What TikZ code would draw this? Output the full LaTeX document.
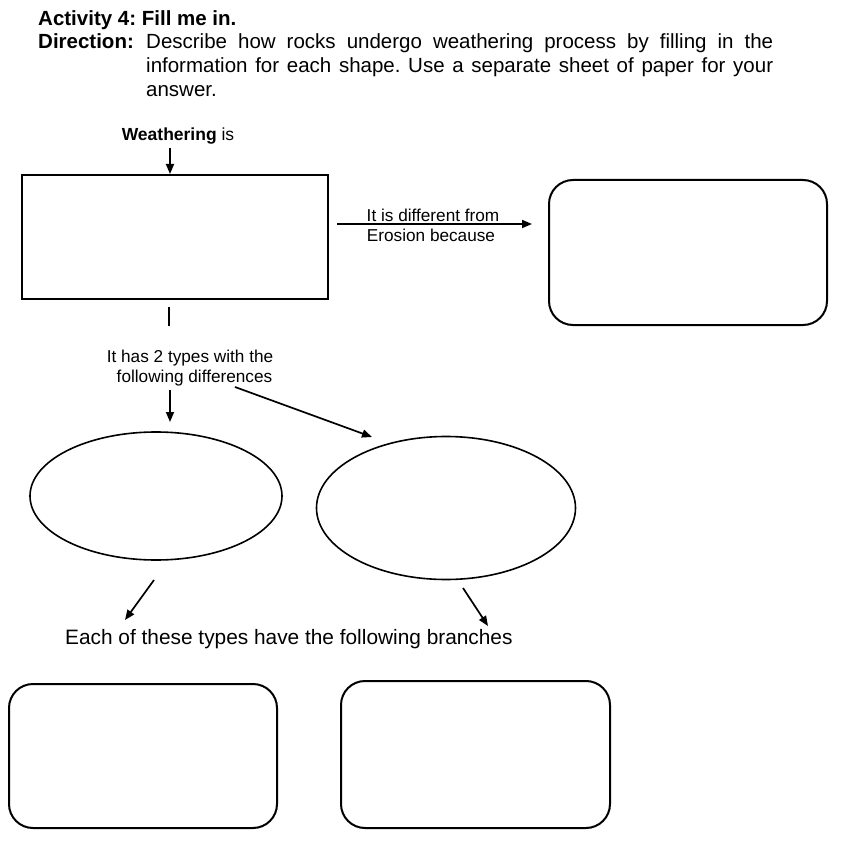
\documentclass[tikz,border=0pt]{standalone}
\usepackage{fontspec}
\setmainfont{Liberation Sans}
\usetikzlibrary{arrows.meta,shapes.geometric}
\frenchspacing
\begin{document}
\begin{tikzpicture}[x=1pt,y=-1pt,
  box/.style={draw,line width=2.2pt},
  rbox/.style={draw,line width=2pt,rounded corners=24pt},
  oval/.style={draw,line width=1.6pt,ellipse},
  arr/.style={line width=1.7pt,-{Triangle[length=10pt,width=8pt]}},
  lbl/.style={inner sep=0pt,font=\fontsize{17.2}{20}\selectfont},
  hdr/.style={inner sep=0pt,anchor=base west,font=\fontsize{20.5}{24}\selectfont},
  every node/.style={inner sep=0pt}]
\useasboundingbox (0,0) rectangle (868,845);
% header
\node[hdr,font=\fontsize{20.5}{24}\selectfont\bfseries] (title) at (38,26) {Activity 4: Fill me in.};
\node[hdr,font=\fontsize{20.5}{24}\selectfont\bfseries] (dirlab) at (38,49) {Direction:};
\node[hdr] (dir1) at (146,49) {\hbox to 627pt{Describe how rocks undergo weathering process by filling in the}};
\node[hdr] (dir2) at (146,73) {\hbox to 627pt{information for each shape. Use a separate sheet of paper for your}};
\node[hdr] (dir3) at (146,97) {answer.};
% top
\node[lbl,anchor=base,font=\fontsize{17.5}{20}\selectfont] (weath) at (178,141) {\textbf{Weathering} is};
\node[box,minimum width=306pt,minimum height=124pt,anchor=north west] (rect) at (20.5,174) {};
\coordinate (w1) at (170,148);
\draw[arr] (w1) -- (w1 |- rect.north);
\node[rbox,minimum width=278pt,minimum height=145pt,anchor=north west] (rr) at (548,179) {};
\coordinate (d1) at (337,224);
\coordinate (d2) at (532,224);
\draw[arr] (d1) -- (d2);
\node[lbl,anchor=base] (diff1) at (433,222) {It is different from};
\node[lbl,anchor=base] (diff2) at (431,242) {Erosion because};
% middle
\coordinate (s1) at (169,307);
\coordinate (s2) at (169,326);
\draw[line width=1.5pt] (s1) -- (s2);
\node[lbl,anchor=base] (types1) at (190,362) {It has 2 types with the};
\node[lbl,anchor=base] (types2) at (194.5,382) {following differences};
\node[oval,minimum width=252pt,minimum height=128pt] (e1) at (156,496) {};
\node[oval,minimum width=259pt,minimum height=143pt] (e2) at (446,508) {};
\coordinate (t1) at (170,390);
\draw[arr] (t1) -- (170,422);
\coordinate (t2) at (235,387);
\coordinate (t3) at (372,437);
\draw[arr] (t2) -- (t3);
% bottom
\coordinate (b1) at (154,580);
\coordinate (b2) at (125,620);
\draw[arr] (b1) -- (b2);
\coordinate (b3) at (463,588);
\coordinate (b4) at (488,626);
\draw[arr] (b3) -- (b4);
\node[anchor=base west,font=\fontsize{20.85}{24}\selectfont] (each) at (65,644) {Each of these types have the following branches};
\node[rbox,minimum width=268pt,minimum height=144pt,anchor=north west] (r1) at (8,683) {};
\node[rbox,minimum width=269pt,minimum height=147pt,anchor=north west] (r2) at (340,680) {};
\end{tikzpicture}
\end{document}
